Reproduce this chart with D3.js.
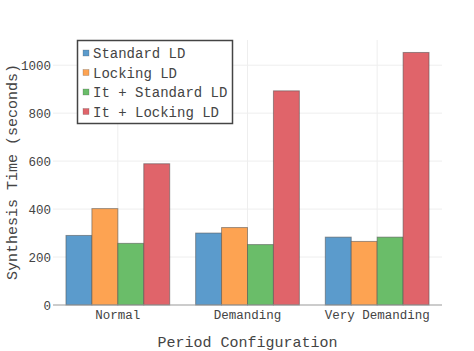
<!DOCTYPE html>
<html>
<head>
<meta charset="utf-8">
<script src="https://cdn.jsdelivr.net/npm/d3@7"></script>
<style>
  body { margin: 0; background: #fff; }
  text { font-family: "Liberation Mono", "DejaVu Sans Mono", monospace; fill: #444; }
</style>
</head>
<body>
<div id="chart"></div>
<script>
// chart data
const categories = ["Normal", "Demanding", "Very Demanding"];
const seriesNames = ["Standard LD", "Locking LD", "It + Standard LD", "It + Locking LD"];
const standardLD = [290, 300, 283];
const lockingLD = [402, 323, 265];
const itStandardLD = [257, 252, 283];
const itLockingLD = [589, 893, 1053];
const yTicks = [0, 200, 400, 600, 800, 1000];
const colors = ["#5b9bcc", "#fda352", "#6abd69", "#e0646a"];

const series = [standardLD, lockingLD, itStandardLD, itLockingLD];

const W = 474, H = 351;
const margin = {top: 40, right: 32, bottom: 46, left: 53};
const width = W - margin.left - margin.right;
const height = H - margin.top - margin.bottom;

const svg = d3.select("#chart").append("svg")
    .attr("width", W)
    .attr("height", H);

const g = svg.append("g")
    .attr("transform", "translate(" + margin.left + "," + margin.top + ")");

// one band per category, bars fill the middle 80% of it
const xOuter = d3.scaleBand().domain(categories).range([0, width]);
const xInner = d3.scaleBand().domain(d3.range(series.length)).range([0, xOuter.bandwidth() * 0.8]);
const y = d3.scaleLinear().domain([0, 1105]).range([height, 0]);

// grid
g.append("g").selectAll("line")
    .data(yTicks.slice(1))
    .join("line")
    .attr("x1", 0).attr("x2", width)
    .attr("y1", d => y(d)).attr("y2", d => y(d))
    .attr("stroke", "#eee").attr("stroke-width", 1);

g.append("g").selectAll("line")
    .data(categories)
    .join("line")
    .attr("x1", d => xOuter(d) + xOuter.bandwidth() / 2)
    .attr("x2", d => xOuter(d) + xOuter.bandwidth() / 2)
    .attr("y1", 0).attr("y2", height)
    .attr("stroke", "#eee").attr("stroke-width", 1);

// bars
series.forEach((vals, si) => {
    g.append("g").selectAll("rect")
        .data(vals)
        .join("rect")
        .attr("x", (d, i) => xOuter(categories[i]) + xOuter.bandwidth() * 0.1 + xInner(si))
        .attr("y", d => y(d))
        .attr("width", xInner.bandwidth())
        .attr("height", d => height - y(d))
        .attr("fill", colors[si])
        .attr("stroke", "rgba(80,80,80,0.55)")
        .attr("stroke-width", 1);
});

// x axis line
g.append("line")
    .attr("x1", 0).attr("x2", width)
    .attr("y1", height).attr("y2", height)
    .attr("stroke", "#999").attr("stroke-width", 1);

// tick labels
g.append("g").selectAll("text")
    .data(categories)
    .join("text")
    .attr("x", d => xOuter(d) + xOuter.bandwidth() / 2)
    .attr("y", height + 14)
    .attr("text-anchor", "middle")
    .style("font-size", "12.5px")
    .text(d => d);

g.append("g").selectAll("text")
    .data(yTicks)
    .join("text")
    .attr("x", -2)
    .attr("y", d => y(d) + 4.5)
    .attr("text-anchor", "end")
    .style("font-size", "12.5px")
    .text(d => d);

// axis titles
svg.append("text")
    .attr("x", margin.left + width / 2)
    .attr("y", 347)
    .attr("text-anchor", "middle")
    .style("font-size", "15px")
    .text("Period Configuration");

svg.append("text")
    .attr("transform", "translate(17," + (margin.top + 132) + ") rotate(-90)")
    .attr("text-anchor", "middle")
    .style("font-size", "15px")
    .text("Synthesis Time (seconds)");

// legend
const legend = svg.append("g").attr("transform", "translate(77,40)");
legend.append("rect")
    .attr("x", 0.5).attr("y", 0.5)
    .attr("width", 155).attr("height", 83)
    .attr("fill", "#fff")
    .attr("stroke", "#444").attr("stroke-width", 1.5);

const items = legend.selectAll("g.item")
    .data(seriesNames)
    .join("g")
    .attr("class", "item")
    .attr("transform", (d, i) => "translate(0," + (13 + i * 19.5) + ")");

items.append("rect")
    .attr("x", 6).attr("y", -3)
    .attr("width", 6).attr("height", 6)
    .attr("fill", (d, i) => colors[i])
    .attr("stroke", "rgba(80,80,80,0.5)")
    .attr("stroke-width", 0.5);

items.append("text")
    .attr("x", 16)
    .attr("y", 5)
    .style("font-size", "14px")
    .text(d => d);
</script>
</body>
</html>
